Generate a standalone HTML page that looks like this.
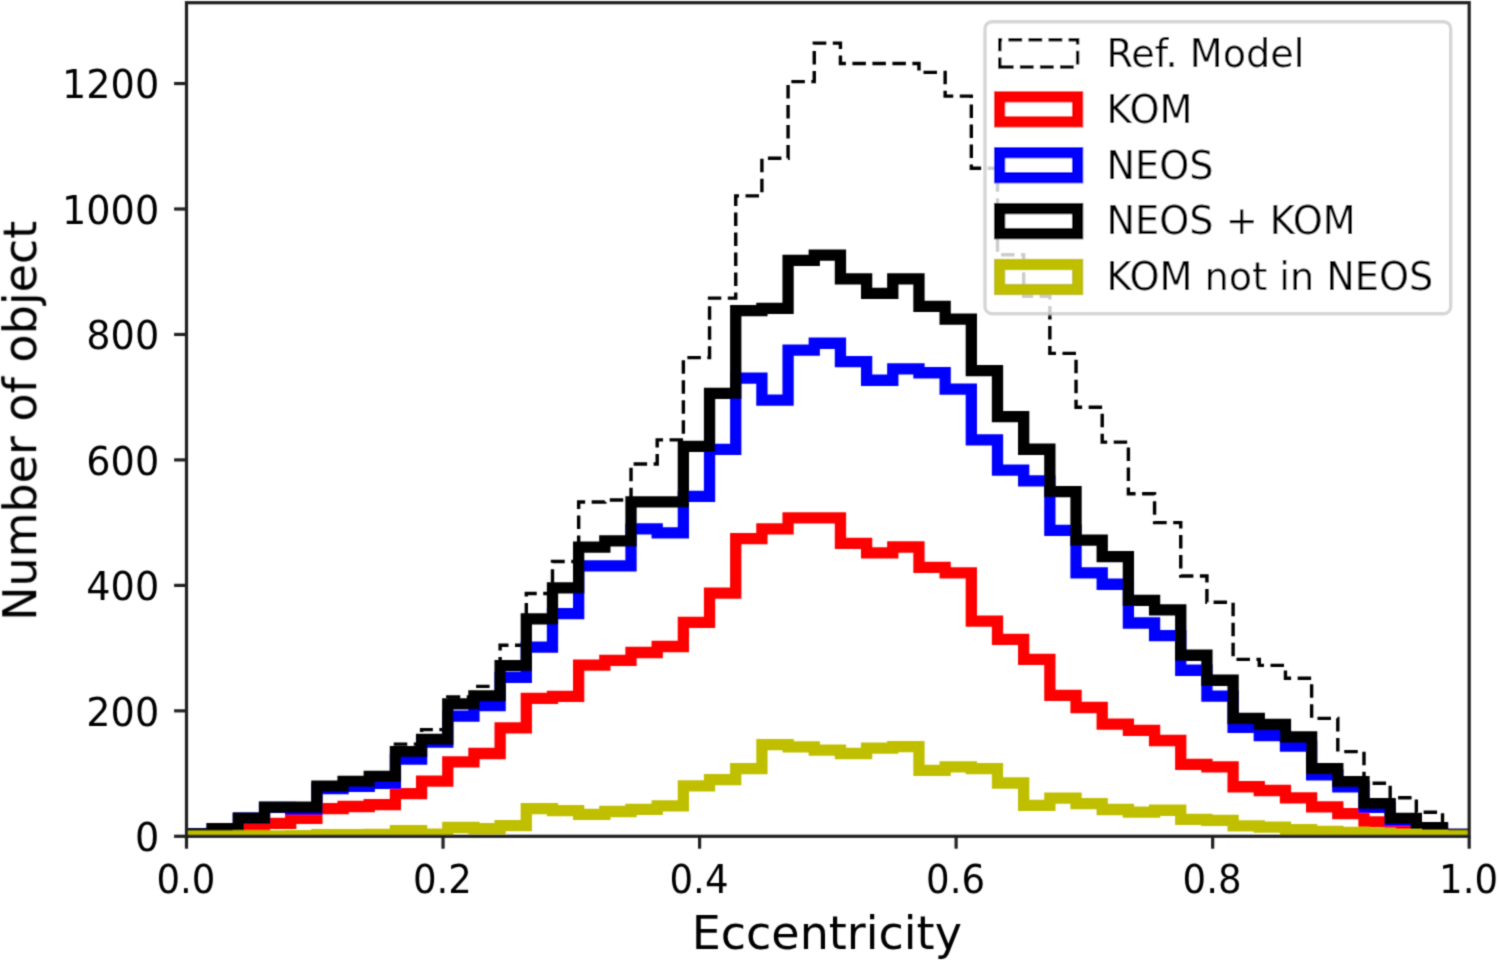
<!DOCTYPE html>
<html lang="en"><head><meta charset="utf-8"><title>Eccentricity histogram</title>
<style>html,body{margin:0;padding:0;background:#fff;}svg{display:block;}text{font-family:"DejaVu Sans","Liberation Sans",sans-serif;fill:#000;}</style></head><body>
<svg width="1499" height="961" viewBox="0 0 1499 961">
<rect width="1499" height="961" fill="#fff"/>
<filter id="soft" x="0" y="0" width="1499" height="961" filterUnits="userSpaceOnUse"><feConvolveMatrix order="3" kernelMatrix="0.0324 0.1152 0.0324 0.1152 0.4096 0.1152 0.0324 0.1152 0.0324" edgeMode="duplicate" preserveAlpha="false"/></filter>
<g filter="url(#soft)">
<defs><clipPath id="ax"><rect x="186.5" y="2.7" width="1282.70" height="833.60"/></clipPath></defs>
<g clip-path="url(#ax)" fill="none" stroke-linejoin="miter" stroke-linecap="butt">
<path d="M186.00,836.30V833.16H212.18V828.15H238.36V817.48H264.53V806.19H290.71V805.56H316.89V784.23H343.07V779.22H369.24V773.57H395.42V744.09H421.60V729.66H447.78V697.04H473.95V686.38H500.13V645.29H526.31V593.53H552.49V561.54H578.66V501.95H604.84V500.07H631.02V463.93H657.20V439.85H683.37V357.67H709.55V298.08H735.73V195.83H761.91V158.19H788.08V81.66H814.26V43.08H840.44V63.47H866.62V63.47H892.79V63.47H918.97V72.37H945.15V96.09H971.33V168.23H997.50V254.79H1023.68V296.19H1049.86V353.40H1076.04V407.23H1102.21V442.17H1128.39V493.79H1154.57V522.65H1180.75V575.97H1206.92V602.32H1233.10V659.40H1259.28V665.36H1285.46V678.22H1311.63V718.37H1337.81V751.61H1363.99V783.29H1390.17V797.78H1416.34V812.27H1442.52V833.16H1468.70V836.30" stroke="#000" stroke-width="3.4" stroke-dasharray="13.5 6.5"/>
<path d="M186.00,836.30V835.05H212.18V833.16H238.36V828.77H264.53V823.44H290.71V818.42H316.89V808.70H343.07V806.50H369.24V804.62H395.42V793.64H421.60V781.10H447.78V761.96H473.95V753.50H500.13V727.78H526.31V698.29H552.49V696.41H578.66V665.05H604.84V660.28H631.02V652.50H657.20V646.48H683.37V622.39H709.55V593.22H735.73V538.71H761.91V528.92H788.08V517.95H814.26V517.95H840.44V543.35H866.62V552.95H892.79V546.99H918.97V567.44H945.15V572.96H971.33V621.14H997.50V639.33H1023.68V659.40H1049.86V695.28H1076.04V707.52H1102.21V724.14H1128.39V730.29H1154.57V740.51H1180.75V764.29H1206.92V766.80H1233.10V786.74H1259.28V790.51H1285.46V797.78H1311.63V806.82H1337.81V813.53H1363.99V821.87H1390.17V831.28H1416.34V833.79H1442.52V835.05H1468.70V836.30" stroke="#ff0000" stroke-width="11.3"/>
<path d="M186.00,836.30V833.79H212.18V828.77H238.36V818.11H264.53V807.44H290.71V809.01H316.89V788.63H343.07V786.43H369.24V783.29H395.42V759.14H421.60V742.20H447.78V716.17H473.95V705.51H500.13V677.28H526.31V647.17H552.49V613.61H578.66V565.93H604.84V565.93H631.02V528.92H657.20V532.94H683.37V496.43H709.55V449.44H735.73V378.18H761.91V400.14H788.08V350.14H814.26V343.24H840.44V361.62H866.62V380.25H892.79V368.96H918.97V372.73H945.15V389.16H971.33V439.85H997.50V470.21H1023.68V480.93H1049.86V530.43H1076.04V572.96H1102.21V584.25H1128.39V623.02H1154.57V635.56H1180.75V670.25H1206.92V696.04H1233.10V727.28H1259.28V735.49H1285.46V746.03H1311.63V774.82H1337.81V786.74H1363.99V807.32H1390.17V820.30H1416.34V828.77H1442.52V834.42H1468.70V836.30" stroke="#0000ff" stroke-width="11.3"/>
<path d="M186.00,836.30V833.79H212.18V828.77H238.36V818.11H264.53V807.13H290.71V807.13H316.89V786.12H343.07V781.41H369.24V776.39H395.42V751.61H421.60V739.38H447.78V703.94H473.95V695.78H500.13V665.67H526.31V618.94H552.49V587.89H578.66V547.11H604.84V540.84H631.02V501.95H657.20V501.95H683.37V446.43H709.55V393.43H735.73V310.62H761.91V308.36H788.08V260.44H814.26V255.11H840.44V278.88H866.62V293.37H892.79V278.88H918.97V306.36H945.15V319.15H971.33V370.66H997.50V416.64H1023.68V449.26H1049.86V491.66H1076.04V540.21H1102.21V556.71H1128.39V600.44H1154.57V609.84H1180.75V655.26H1206.92V680.23H1233.10V718.49H1259.28V724.52H1285.46V737.00H1311.63V768.55H1337.81V781.72H1363.99V803.55H1390.17V818.30H1416.34V827.77H1442.52V834.42H1468.70V836.30" stroke="#000000" stroke-width="11.3"/>
<path d="M186.00,836.30V836.11H212.18V836.11H238.36V835.99H264.53V835.80H290.71V835.55H316.89V834.73H343.07V834.54H369.24V834.29H395.42V830.65H421.60V834.10H447.78V827.52H473.95V828.77H500.13V825.64H526.31V808.70H552.49V810.58H578.66V814.34H604.84V811.52H631.02V809.33H657.20V805.81H683.37V785.80H709.55V779.53H735.73V768.55H761.91V744.71H788.08V746.91H814.26V750.05H840.44V753.50H866.62V748.04H892.79V746.60H918.97V770.43H945.15V766.80H971.33V768.55H997.50V782.98H1023.68V805.31H1049.86V798.03H1076.04V803.55H1102.21V809.51H1128.39V812.09H1154.57V810.27H1180.75V819.36H1206.92V820.30H1233.10V825.82H1259.28V827.08H1285.46V829.53H1311.63V831.28H1337.81V832.29H1363.99V833.29H1390.17V834.54H1416.34V835.30H1442.52V835.99H1468.70V836.30" stroke="#bfbf00" stroke-width="11.3"/>
</g>
<rect x="186.5" y="2.7" width="1282.70" height="833.60" fill="none" stroke="#202020" stroke-width="3.2"/>
<g stroke="#202020" stroke-width="3.2"><line x1="186.50" y1="836.3" x2="186.50" y2="848.6999999999999"/><line x1="443.04" y1="836.3" x2="443.04" y2="848.6999999999999"/><line x1="699.58" y1="836.3" x2="699.58" y2="848.6999999999999"/><line x1="956.12" y1="836.3" x2="956.12" y2="848.6999999999999"/><line x1="1212.66" y1="836.3" x2="1212.66" y2="848.6999999999999"/><line x1="1469.20" y1="836.3" x2="1469.20" y2="848.6999999999999"/><line x1="186.5" y1="836.30" x2="174.1" y2="836.30"/><line x1="186.5" y1="710.84" x2="174.1" y2="710.84"/><line x1="186.5" y1="585.38" x2="174.1" y2="585.38"/><line x1="186.5" y1="459.92" x2="174.1" y2="459.92"/><line x1="186.5" y1="334.46" x2="174.1" y2="334.46"/><line x1="186.5" y1="209.00" x2="174.1" y2="209.00"/><line x1="186.5" y1="83.54" x2="174.1" y2="83.54"/></g>
<g font-size="38.2"><text transform="translate(185.90,892.5) scale(0.972,1)" text-anchor="middle">0.0</text><text transform="translate(442.44,892.5) scale(0.972,1)" text-anchor="middle">0.2</text><text transform="translate(698.98,892.5) scale(0.972,1)" text-anchor="middle">0.4</text><text transform="translate(955.52,892.5) scale(0.972,1)" text-anchor="middle">0.6</text><text transform="translate(1212.06,892.5) scale(0.972,1)" text-anchor="middle">0.8</text><text transform="translate(1468.60,892.5) scale(0.972,1)" text-anchor="middle">1.0</text><text x="159.2" y="851.00" text-anchor="end">0</text><text x="159.2" y="725.54" text-anchor="end">200</text><text x="159.2" y="600.08" text-anchor="end">400</text><text x="159.2" y="474.62" text-anchor="end">600</text><text x="159.2" y="349.16" text-anchor="end">800</text><text x="159.2" y="223.70" text-anchor="end">1000</text><text x="159.2" y="98.24" text-anchor="end">1200</text></g>
<text x="826.8" y="949.2" font-size="46.0" text-anchor="middle">Eccentricity</text>
<text transform="translate(36.2,420.8) rotate(-90)" font-size="46.0" text-anchor="middle">Number of object</text>
<g>
<rect x="985" y="21.7" width="465.7" height="292" rx="7" ry="7" fill="#fff" fill-opacity="0.8" stroke="#cccccc" stroke-opacity="0.8" stroke-width="3.4"/>
<path d="M999.8,67.00H1077.6V39.80H999.8Z" fill="none" stroke="#000" stroke-width="3.4" stroke-dasharray="13.8 6.25"/>
<text x="1106.5" y="67.30" font-size="38.2">Ref. Model</text>
<rect x="999.6" y="96.80" width="78" height="25" fill="none" stroke="#ff0000" stroke-width="11.3"/>
<text x="1106.5" y="122.90" font-size="38.2">KOM</text>
<rect x="999.6" y="152.70" width="78" height="25" fill="none" stroke="#0000ff" stroke-width="11.3"/>
<text x="1106.5" y="178.50" font-size="38.2">NEOS</text>
<rect x="999.6" y="208.60" width="78" height="25" fill="none" stroke="#000" stroke-width="11.3"/>
<text x="1106.5" y="234.10" font-size="38.2">NEOS + KOM</text>
<rect x="999.6" y="264.50" width="78" height="25" fill="none" stroke="#bfbf00" stroke-width="11.3"/>
<text x="1106.5" y="289.70" font-size="38.2">KOM not in NEOS</text>
</g>
</g>
</svg></body></html>
